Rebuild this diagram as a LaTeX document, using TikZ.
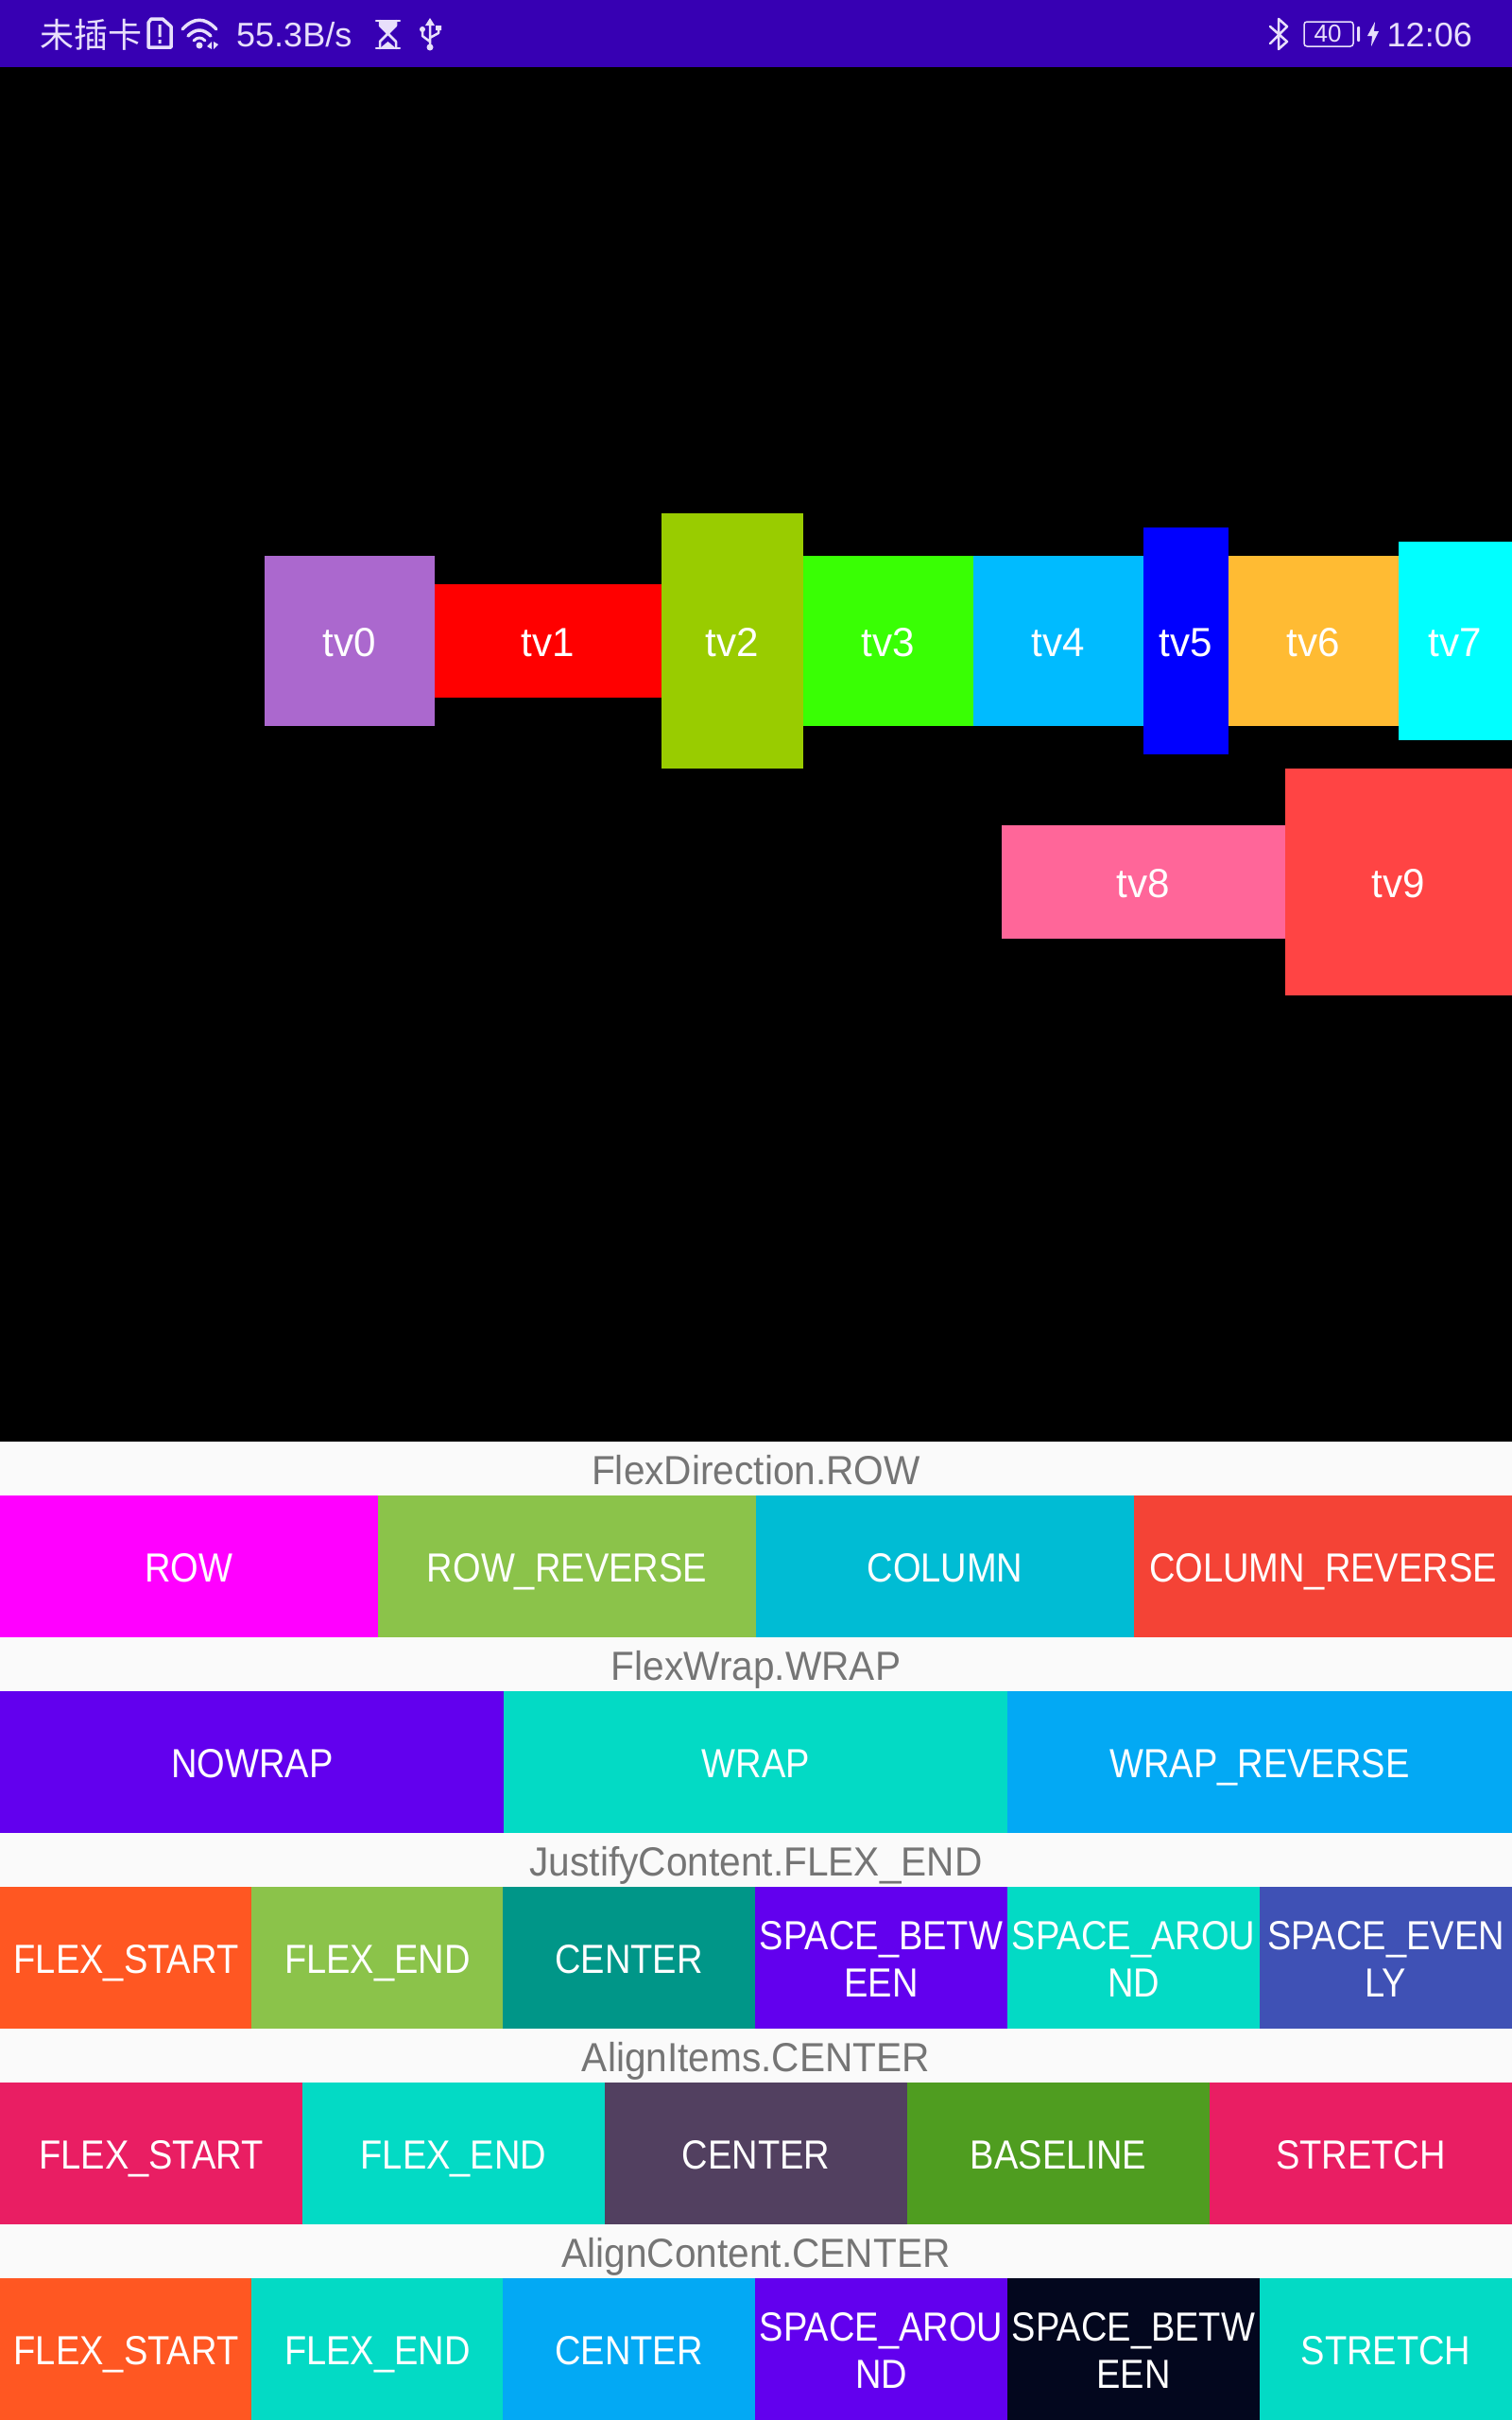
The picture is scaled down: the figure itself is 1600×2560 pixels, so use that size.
\documentclass[tikz,border=0pt]{standalone}
\usepackage{fontspec}
\setmainfont{Liberation Sans}
\newfontfamily\cjk{Noto Sans CJK SC}
\newfontfamily\capsfont[FakeStretch=0.885]{Liberation Sans}
\newfontfamily\titlefont[FakeStretch=0.945]{Liberation Sans}
\newfontfamily\tvfont[FakeStretch=0.98]{Liberation Sans}
\definecolor{statusbar}{HTML}{3700B3}
\definecolor{statusink}{HTML}{E8DFFB}
\definecolor{panel}{HTML}{FAFAFA}
\definecolor{caption}{HTML}{757575}
\definecolor{tvA}{HTML}{AB68CE}
\definecolor{tvB}{HTML}{FF0000}
\definecolor{tvC}{HTML}{99CC00}
\definecolor{tvD}{HTML}{39FF04}
\definecolor{tvE}{HTML}{00BBFF}
\definecolor{tvF}{HTML}{0000FF}
\definecolor{tvG}{HTML}{FFBB33}
\definecolor{tvH}{HTML}{00FFFF}
\definecolor{tvI}{HTML}{FF6699}
\definecolor{tvJ}{HTML}{FF4444}
\definecolor{magentaA}{HTML}{FF00FF}
\definecolor{lime}{HTML}{8BC34A}
\definecolor{cyanA}{HTML}{00BCD4}
\definecolor{redA}{HTML}{F44336}
\definecolor{violetA}{HTML}{6200EE}
\definecolor{tealA}{HTML}{03DAC5}
\definecolor{skyA}{HTML}{03A9F4}
\definecolor{orangeA}{HTML}{FF5722}
\definecolor{tealB}{HTML}{009688}
\definecolor{indigoA}{HTML}{3F51B5}
\definecolor{pinkA}{HTML}{E91E63}
\definecolor{plum}{HTML}{524060}
\definecolor{grass}{HTML}{4F9D20}
\definecolor{ink}{HTML}{03071E}
\tikzset{
    tvbox/.style={anchor=north west,inner sep=0pt,outer sep=0pt,text=white,font=\tvfont\fontsize{43}{43}\selectfont,text height=33pt,text depth=0pt},
    btn/.style={anchor=north west,inner sep=0pt,outer sep=0pt,minimum height=150pt,text=white,align=center,text depth=0pt,font=\capsfont\fontsize{43}{50}\selectfont},
    title/.style={inner sep=0pt,text=caption,text height=31pt,text depth=0pt,font=\titlefont\fontsize{43}{43}\selectfont},
    stat/.style={inner sep=0pt,text=statusink,font=\fontsize{36}{36}\selectfont},
    icon/.style={draw=statusink,line width=3pt,line join=round,line cap=round}
}
\begin{document}
\begin{tikzpicture}[x=1pt,y=-1pt]
    \useasboundingbox (0,0) rectangle (1600,2560);
    \fill [black] (0,0) rectangle (1600,1525);
    \fill [statusbar] (0,0) rectangle (1600,71);
    \fill [panel] (0,1525) rectangle (1600,2560);
    \foreach \id/\x/\y/\w/\h/\c in {tv0/280/588/180/180/tvA,tv1/460/618/240/120/tvB,tv2/700/543/150/270/tvC,tv3/850/588/180/180/tvD,tv4/1030/588/180/180/tvE,tv5/1210/558/90/240/tvF,tv6/1300/588/180/180/tvG,tv7/1480/573/120/210/tvH,tv8/1060/873/300/120/tvI,tv9/1360/813/240/240/tvJ}
    \node [tvbox,fill=\c,minimum width=\w pt,minimum height=\h pt] (\id) at (\x,\y) {\id};
    \node [title] (dirtitle) at (800,1555) {FlexDirection.ROW};
    \node [title] (wraptitle) at (800,1762) {FlexWrap.WRAP};
    \node [title] (justtitle) at (800,1969) {JustifyContent.FLEX\_END};
    \node [title] (itemstitle) at (800,2176) {AlignItems.CENTER};
    \node [title] (contenttitle) at (800,2383) {AlignContent.CENTER};
    \foreach \i/\c/\t in {0/magentaA/ROW,1/lime/ROW\_REVERSE,2/cyanA/COLUMN,3/redA/COLUMN\_REVERSE}
    \node [btn,text height=33pt,fill=\c,minimum width=400pt] (dir\i) at (\i*400,1582) {\t};
    \foreach \i/\x/\c/\t in {0/0/violetA/NOWRAP,1/533/tealA/WRAP,2/1066/skyA/WRAP\_REVERSE}
    \node [btn,text height=33pt,fill=\c,minimum width=534pt] (wrap\i) at (\x,1789) {\t};
    \foreach \i/\x/\c/\h/\t in {0/0/orangeA/33/FLEX\_START,1/266/lime/33/FLEX\_END,2/532/tealB/33/CENTER,3/799/violetA/83/SPACE\_BETW\\EEN,4/1066/tealA/83/SPACE\_AROU\\ND,5/1333/indigoA/83/SPACE\_EVEN\\LY}
    \node [btn,text height=\h pt,fill=\c,minimum width=267pt] (just\i) at (\x,1996) {\t};
    \foreach \i/\c/\t in {0/pinkA/FLEX\_START,1/tealA/FLEX\_END,2/plum/CENTER,3/grass/BASELINE,4/pinkA/STRETCH}
    \node [btn,text height=33pt,fill=\c,minimum width=320pt] (items\i) at (\i*320,2203) {\t};
    \foreach \i/\x/\c/\h/\t in {0/0/orangeA/33/FLEX\_START,1/266/tealA/33/FLEX\_END,2/532/skyA/33/CENTER,3/799/violetA/83/SPACE\_AROU\\ND,4/1066/ink/83/SPACE\_BETW\\EEN,5/1333/tealA/33/STRETCH}
    \node [btn,text height=\h pt,fill=\c,minimum width=267pt] (content\i) at (\x,2410) {\t};
    \node [stat,anchor=west] (nosim) at (42,37) {\cjk 未插卡};
    \node [stat,anchor=west] (speed) at (250,37) {55.3B/s};
    \node [stat,anchor=east] (clock) at (1558,37) {12:06};
    \node [stat,font=\fontsize{26}{26}\selectfont] (level) at (1405,36) {40};
    \draw [icon,line width=3.5pt] (157,24) -- (157,50) -- (181,50) -- (181,28) -- (172,20) -- (160,20) -- cycle;
    \fill [statusink] (167.5,26) rectangle (170.5,39) (167.5,42) rectangle (170.5,46);
    \draw [icon,line width=3.5pt] (193,31) .. controls (205,18) and (217,18) .. (229,31);
    \draw [icon,line width=3.5pt] (199,38) .. controls (207,30) and (215,30) .. (223,38);
    \draw [icon] (205,43) .. controls (209,39) and (213,39) .. (217,43);
    \fill [statusink] (211,48) circle (3.5pt);
    \fill [statusink] (219,49) -- (224,44) -- (224,52) -- cycle (226,44) -- (231,47) -- (226,52) -- cycle;
    \draw [icon,line width=2.5pt] (398,22) -- (423,22) (398,51) -- (423,51);
    \draw [icon,line width=2.5pt] (402,22) -- (402,27) -- (419,44) -- (419,51) (419,22) -- (419,27) -- (402,44) -- (402,51);
    \fill [statusink] (402,23) -- (419,23) -- (419,27) -- (410.5,36) -- (402,27) -- cycle (402,51) -- (410.5,44) -- (419,51) -- cycle;
    \draw [icon,line width=2.5pt] (455,25) -- (455,50) (455,44) -- (447,38) -- (447,33) (455,40) -- (464,35) -- (464,31);
    \fill [statusink] (455,19) -- (450,27) -- (460,27) -- cycle (455,50) circle (3.5pt) (447,31) circle (3pt) (461,27) rectangle (467,32);
    \draw [icon,line width=2.5pt] (1344,28) -- (1362,44) -- (1353,52) -- (1353,20) -- (1362,28) -- (1344,46);
    \draw [statusink,line width=1.5pt,rounded corners=3pt] (1380,23) rectangle (1432,49);
    \fill [statusink,rounded corners=1pt] (1436,28) rectangle (1439,44);
    \fill [statusink] (1455,23) -- (1447,38) -- (1452,38) -- (1451,49) -- (1459,33) -- (1454,33) -- cycle;
\end{tikzpicture}
\end{document}
